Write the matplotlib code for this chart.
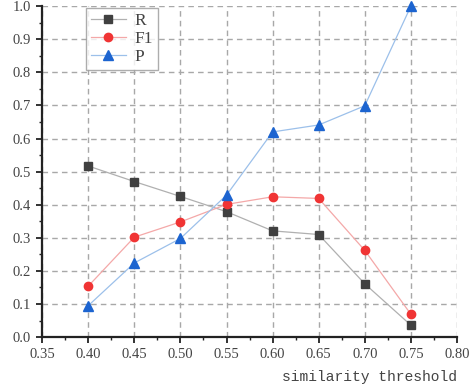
import matplotlib
matplotlib.use("Agg")
import matplotlib.pyplot as plt
from matplotlib.ticker import MultipleLocator, FormatStrFormatter

# data
threshold = [0.40, 0.45, 0.50, 0.55, 0.60, 0.65, 0.70, 0.75]
r_vals = [0.517, 0.470, 0.425, 0.379, 0.321, 0.310, 0.161, 0.036]
f1_vals = [0.154, 0.302, 0.348, 0.401, 0.424, 0.419, 0.262, 0.069]
p_vals = [0.095, 0.224, 0.298, 0.429, 0.620, 0.641, 0.699, 1.000]

serif = ["Liberation Serif", "DejaVu Serif"]
mono = ["Liberation Mono", "DejaVu Sans Mono"]

fig = plt.figure(figsize=(4.74, 3.87), dpi=100)
ax = fig.add_axes([0.089, 0.129, 0.875, 0.855])

ax.plot(threshold, r_vals, color="#b0b0b0", lw=0.9, marker="s", ms=5.5,
        mfc="#404040", mec="#404040", label="R", clip_on=False, zorder=3)
ax.plot(threshold, f1_vals, color="#f4a8a8", lw=0.9, marker="o", ms=6,
        mfc="#f03434", mec="#f03434", label="F1", clip_on=False, zorder=3)
ax.plot(threshold, p_vals, color="#9cc0ea", lw=0.9, marker="^", ms=6.5,
        mfc="#1c64d0", mec="#1c64d0", label="P", clip_on=False, zorder=3)

ax.set_xlim(0.35, 0.80)
ax.set_ylim(0.0, 1.0)
ax.xaxis.set_major_locator(MultipleLocator(0.05))
ax.xaxis.set_minor_locator(MultipleLocator(0.025))
ax.yaxis.set_major_locator(MultipleLocator(0.1))
ax.yaxis.set_minor_locator(MultipleLocator(0.05))
ax.xaxis.set_major_formatter(FormatStrFormatter("%.2f"))
ax.yaxis.set_major_formatter(FormatStrFormatter("%.1f"))

for s in ["top", "right"]:
    ax.spines[s].set_visible(False)
for s in ["left", "bottom"]:
    ax.spines[s].set_linewidth(1.6)
    ax.spines[s].set_color("#222222")

ax.tick_params(which="major", direction="out", length=4.5, width=1.3, colors="#222222")
ax.tick_params(which="minor", direction="out", length=2.5, width=1.0, colors="#222222")
for lbl in ax.get_xticklabels() + ax.get_yticklabels():
    lbl.set_family(serif)
    lbl.set_fontsize(10.5)
    lbl.set_color("#444444")

ax.grid(True, which="major", ls=(0, (4, 3)), color="#a8a8a8", lw=1.0)
ax.set_axisbelow(True)

ax.set_xlabel("similarity threshold", family=mono, fontsize=10.5,
              color="#444444", loc="right", labelpad=6)

leg = ax.legend(loc="upper left", bbox_to_anchor=(0.105, 0.995), prop={"family": serif, "size": 12.5},
                frameon=True, fancybox=False, edgecolor="#999999", handlelength=2.0,
                labelspacing=0.1, borderpad=0.3, handletextpad=0.5, borderaxespad=0)
leg.get_frame().set_linewidth(1.0)
for t in leg.get_texts():
    t.set_color("#444444")

fig.savefig("out.png", dpi=100)
